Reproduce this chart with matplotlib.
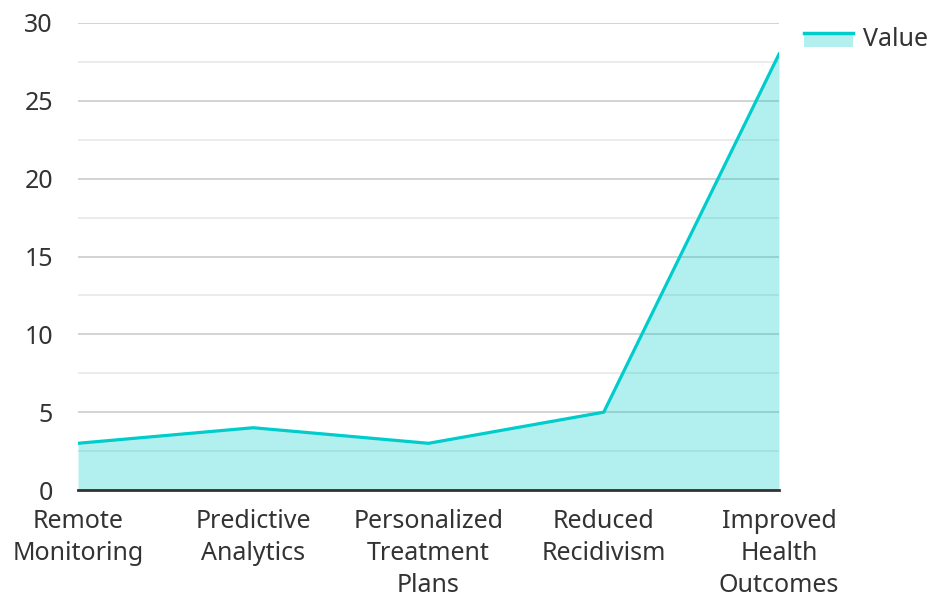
import matplotlib
matplotlib.use("Agg")
import matplotlib.pyplot as plt
from matplotlib.legend_handler import HandlerBase
from matplotlib.patches import Rectangle
from matplotlib.lines import Line2D

categories = ["Remote\nMonitoring", "Predictive\nAnalytics", "Personalized\nTreatment\nPlans",
              "Reduced\nRecidivism", "Improved\nHealth\nOutcomes"]
values = [3, 4, 3, 5, 28]
series_name = "Value"

LINE = "#00cccc"
FILL = "#b2efee"
TEXT = "#333333"

plt.rcParams["font.family"] = ["Noto Sans", "DejaVu Sans"]


class AreaHandler(HandlerBase):
    # legend swatch: filled box with the line along its top edge
    def create_artists(self, legend, orig, xd, yd, width, height, fontsize, trans):
        top = yd + height * 0.75
        bot = yd - height * 0.1
        rect = Rectangle((xd, bot), width, top - bot,
                         facecolor=FILL, edgecolor="none", transform=trans)
        line = Line2D([xd, xd + width], [top, top], color=LINE, lw=2.5, transform=trans)
        return [rect, line]


fig = plt.figure(figsize=(9.28, 5.94), dpi=100)
ax = fig.add_axes([78 / 928, 1 - 490 / 594, (779 - 78) / 928, (490 - 23) / 594])

x = list(range(len(values)))
ax.fill_between(x, values, 0, color=LINE, alpha=0.3, lw=0, zorder=2)
line, = ax.plot(x, values, color=LINE, lw=2.3, zorder=3, solid_joinstyle="miter")

ax.set_xlim(0, len(values) - 1)
ax.set_ylim(0, 30)
ax.set_yticks(range(0, 31, 5))
ax.set_yticks([2.5 + 5 * i for i in range(6)], minor=True)
ax.grid(True, which="major", axis="y", color="#cccccc", lw=1.2, zorder=1)
ax.grid(True, which="minor", axis="y", color="#e8e8e8", lw=1.2, zorder=1)
ax.set_axisbelow(True)

ax.set_xticks(x)
ax.set_xticklabels(categories, linespacing=1.37)
ax.tick_params(axis="x", length=0, pad=13.5, labelsize=18, labelcolor=TEXT)
ax.tick_params(axis="y", which="both", length=0, pad=18, labelsize=18, labelcolor=TEXT)

for s in ["top", "right", "left"]:
    ax.spines[s].set_visible(False)
ax.spines["bottom"].set_color(TEXT)
ax.spines["bottom"].set_linewidth(2)
ax.spines["bottom"].set_zorder(4)

fig.legend([line], [series_name], handler_map={line: AreaHandler()},
           loc="upper right", bbox_to_anchor=(1.0, 0.955), frameon=False,
           borderaxespad=0, borderpad=0,
           fontsize=18, labelcolor=TEXT, handlelength=1.95, handletextpad=0.4)

fig.savefig("out.png", dpi=100)
